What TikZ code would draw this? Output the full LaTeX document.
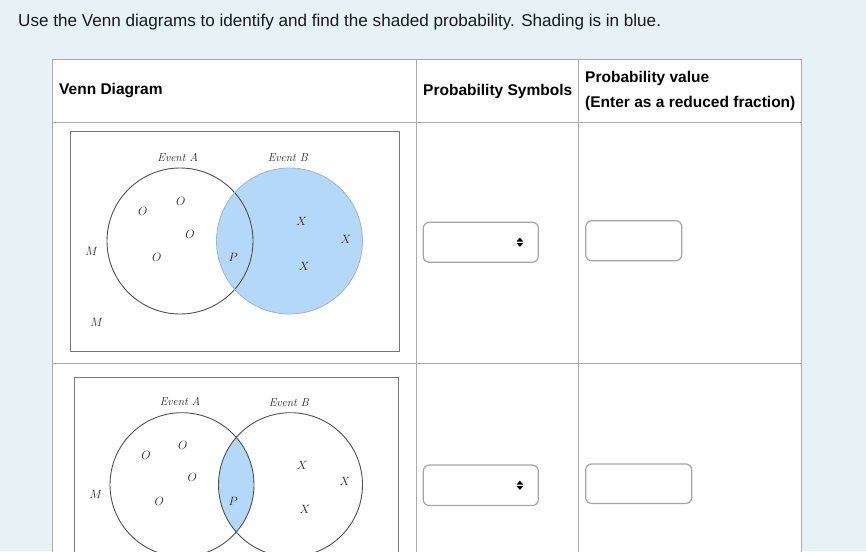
\documentclass[tikz,border=0pt]{standalone}
\usepackage{fontspec}
\newfontfamily\uifont{Liberation Sans}
\usetikzlibrary{calc}
\definecolor{pagebg}{RGB}{230,242,245}
\definecolor{gridline}{RGB}{172,172,172}
\definecolor{fieldline}{RGB}{165,165,165}
\definecolor{shadeblue}{RGB}{180,216,248}
\definecolor{vennline}{RGB}{80,80,80}
\tikzset{
  ui/.style={font=\uifont\fontsize{17.1}{20}\selectfont, text=black!90, inner sep=0pt},
  colhead/.style={font=\uifont\bfseries\fontsize{15.5}{18}\selectfont, inner sep=0pt, anchor=west, align=left},
  vennlbl/.style={font=\fontsize{11.5}{13}\selectfont, text=black!85, inner sep=0pt},
  field/.style={draw=fieldline, line width=1.2pt, rounded corners=6pt, fill=white, inner sep=0pt},
}
% little up/down arrows of a select box
\newcommand{\updown}[1]{
  \fill ($(#1)+(-3.3,-0.8)$) -- ($(#1)+(3.3,-0.8)$) -- ($(#1)+(0,-4.6)$) -- cycle;
  \fill ($(#1)+(-3.3,0.8)$) -- ($(#1)+(3.3,0.8)$) -- ($(#1)+(0,4.6)$) -- cycle;
}

\begin{document}
\begin{tikzpicture}[x=1pt,y=-1pt]
  \useasboundingbox (0,0) rectangle (866,551);
  \clip (0,0) rectangle (866,551);
  \fill[pagebg] (0,0) rectangle (866,551);

  \node[ui, anchor=west] (title) at (18,22.5)
    {Use the Venn diagrams to identify and find the shaded probability. Shading is in blue.};

  % table
  \fill[white] (52,59) rectangle (801,560);
  \draw[gridline] (52,560) -- (52,59) -- (801,59) -- (801,560);
  \draw[gridline] (52,122) -- (801,122);
  \draw[gridline] (52,363) -- (801,363);
  \draw[gridline] (416,59) -- (416,560);
  \draw[gridline] (578,59) -- (578,560);

  \node[colhead] (hvenn) at (59,91) {Venn Diagram};
  \node[colhead] (hsym) at (423,91) {Probability Symbols};
  \node[colhead] (hval) at (585,78) {Probability value};
  \node[colhead] (hfrac) at (585,103) {(Enter as a reduced fraction)};

  % first venn diagram
  \draw[gridline!70!black, line width=0.9pt] (70,131.5) rectangle (399.5,351.5);
  \fill[shadeblue] (289.5,241) circle (73pt);
  \draw[vennline, line width=0.9pt] (180,241) circle (73pt);
  \draw[shadeblue!60!gray, line width=0.8pt] (289.5,241) circle (73pt);
  \node[vennlbl] (ea1) at (177.7,157.3) {\textit{Event A}};
  \node[vennlbl] (eb1) at (288,157.3) {\textit{Event B}};
  \node[vennlbl] (oa1) at (142.7,211.7) {$O$};
  \node[vennlbl] (ob1) at (180.7,201.7) {$O$};
  \node[vennlbl] (oc1) at (190,234.3) {$O$};
  \node[vennlbl] (od1) at (156.7,257.7) {$O$};
  \node[vennlbl] (p1) at (233.3,257.7) {$P$};
  \node[vennlbl] (xa1) at (301.7,221.7) {$X$};
  \node[vennlbl] (xb1) at (346,239) {$X$};
  \node[vennlbl] (xc1) at (304.3,266.7) {$X$};
  \node[vennlbl] (ma1) at (91.7,251) {$M$};
  \node[vennlbl] (mb1) at (96.7,322.3) {$M$};

  % second venn diagram
  \draw[gridline!70!black, line width=0.9pt] (74.3,377.7) rectangle (398,560);
  \begin{scope}
    \clip (182,484.7) circle (72pt);
    \fill[shadeblue] (290.5,484.7) circle (72pt);
  \end{scope}
  \draw[vennline, line width=0.9pt] (182,484.7) circle (72pt);
  \draw[vennline, line width=0.9pt] (290.5,484.7) circle (72pt);
  \node[vennlbl] (ea2) at (180,401.7) {\textit{Event A}};
  \node[vennlbl] (eb2) at (289,402.3) {\textit{Event B}};
  \node[vennlbl] (oa2) at (146,455) {$O$};
  \node[vennlbl] (ob2) at (182.7,445.7) {$O$};
  \node[vennlbl] (oc2) at (192.3,477.7) {$O$};
  \node[vennlbl] (od2) at (159.3,501) {$O$};
  \node[vennlbl] (p2) at (233.3,501) {$P$};
  \node[vennlbl] (xa2) at (302.3,465) {$X$};
  \node[vennlbl] (xb2) at (345,481.7) {$X$};
  \node[vennlbl] (xc2) at (305,509) {$X$};
  \node[vennlbl] (m2) at (96,494) {$M$};

  % answer fields
  \node[field, minimum width=115pt, minimum height=40pt] (sym1) at (480.8,242.3) {};
  \node[field, minimum width=96pt, minimum height=40pt] (val1) at (633.7,240.7) {};
  \node[field, minimum width=115pt, minimum height=40.5pt] (sym2) at (480.8,485.3) {};
  \node[field, minimum width=106pt, minimum height=39.5pt] (val2) at (638.7,483.7) {};
  \coordinate (icon1) at ($(sym1.east)+(-19,0)$);
  \coordinate (icon2) at ($(sym2.east)+(-19,0)$);
  \updown{icon1}
  \updown{icon2}
\end{tikzpicture}
\end{document}
